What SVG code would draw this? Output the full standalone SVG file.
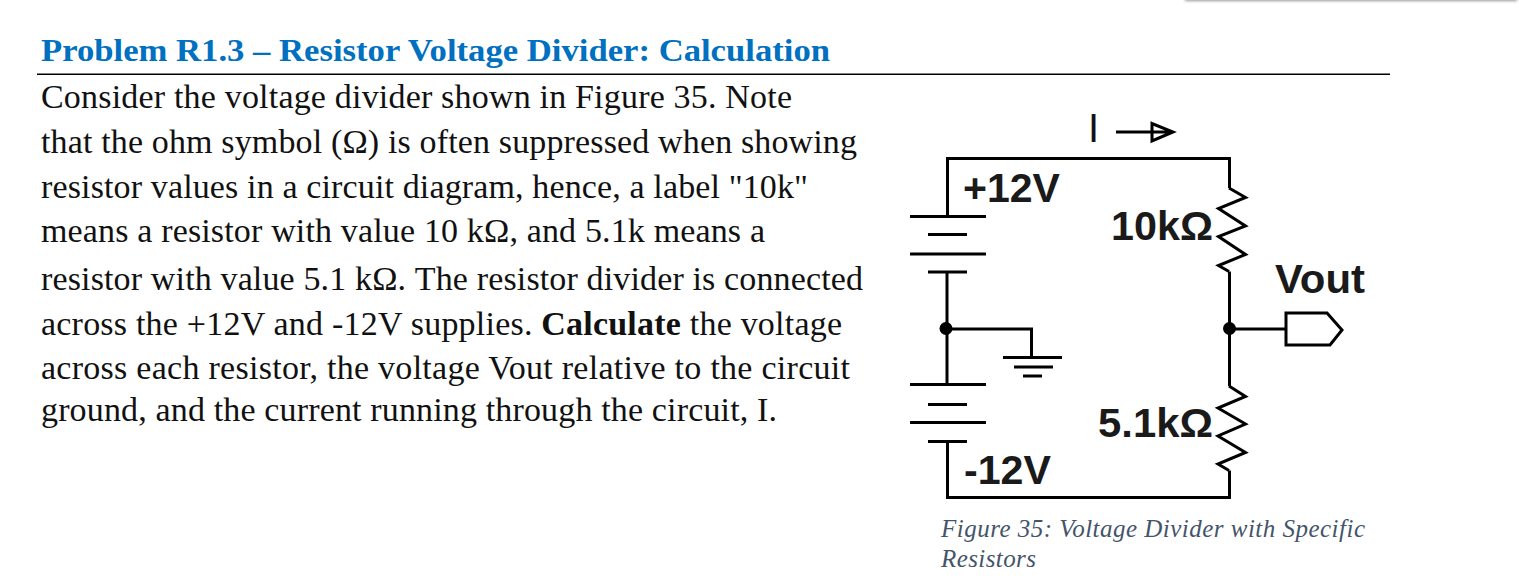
<svg xmlns="http://www.w3.org/2000/svg" width="1519" height="587" viewBox="0 0 1519 587">
<style>
.w{fill:none;stroke:#000;stroke-width:3;stroke-linejoin:miter}
.b{font-family:"Liberation Serif","Times New Roman",serif;font-size:34px;fill:#111}
.h{font-family:"Liberation Serif","Times New Roman",serif;font-size:32px;font-weight:bold;fill:#0070c0}
.c{font-family:"Liberation Serif","Times New Roman",serif;font-size:25px;font-style:italic;fill:#44546a}
.l{font-family:"Liberation Sans",Arial,sans-serif;font-size:41px;font-weight:bold;fill:#1a1a1a}
</style>
<defs><filter id="s" x="-5%" y="-300%" width="110%" height="700%"><feGaussianBlur stdDeviation="1.5"/></filter></defs>
<rect width="1519" height="587" fill="#fff"/>
<rect x="1185" y="-4" width="332" height="5" fill="#999" filter="url(#s)"/>
<g id="heading">
<text class="h" x="41" y="61" textLength="789" lengthAdjust="spacingAndGlyphs">Problem R1.3 – Resistor Voltage Divider: Calculation</text>
<rect x="37" y="73.500" width="1353" height="1.500" fill="#000"/>
</g>
<g id="body">
<text class="b" x="41" y="108" textLength="751">Consider the voltage divider shown in Figure 35. Note</text>
<text class="b" x="41" y="152.500" textLength="816">that the ohm symbol (Ω) is often suppressed when showing</text>
<text class="b" x="41" y="198" textLength="767">resistor values in a circuit diagram, hence, a label "10k"</text>
<text class="b" x="41" y="242" textLength="724">means a resistor with value 10 kΩ, and 5.1k means a</text>
<text class="b" x="41" y="290" textLength="822">resistor with value 5.1 kΩ. The resistor divider is connected</text>
<text class="b" x="41" y="335" textLength="801">across the +12V and -12V supplies. <tspan font-weight="bold">Calculate</tspan> the voltage</text>
<text class="b" x="41" y="379" textLength="809">across each resistor, the voltage Vout relative to the circuit</text>
<text class="b" x="41" y="421" textLength="736">ground, and the current running through the circuit, I.</text>
</g>
<g id="connectors">
<path class="w" d="M947.500 216.500V158.500H1229.500V188"/>
<path class="w" d="M1229.500 271.500V386"/>
<path class="w" d="M1229.500 470.500V497.500H947.500V441"/>
<path class="w" d="M947 272V384.500"/>
<path class="w" d="M947 329H1031.500V357"/>
<path class="w" d="M1229.500 329H1285"/>
</g>
<g id="battery-plus">
<path class="w" d="M910 216.500H986M928 234.500H967M910 254H986M928 272H967"/>
<text class="l" x="963" y="202" textLength="97" lengthAdjust="spacingAndGlyphs">+12V</text>
</g>
<g id="battery-minus">
<path class="w" d="M910 384.500H986M928 404.500H967M910 422.500H986M928 441.500H967"/>
<text class="l" x="964" y="484" textLength="87" lengthAdjust="spacingAndGlyphs">-12V</text>
</g>
<g id="ground">
<path class="w" d="M1003 357.500H1062M1014 367H1053M1023 376H1042"/>
</g>
<g id="r1">
<path class="w" d="M1229 188L1245.500 197.500L1218.500 208.500L1245.500 226L1218.500 236.500L1245.500 254.500L1218.500 265.500L1229 271.500"/>
<text class="l" x="1111" y="240" textLength="102" lengthAdjust="spacingAndGlyphs">10kΩ</text>
</g>
<g id="r2">
<path class="w" d="M1229 386L1245.500 396.500L1218 408L1245.500 424L1218 436L1245.500 452.500L1218 464L1229 470.500"/>
<text class="l" x="1098" y="437" textLength="115" lengthAdjust="spacingAndGlyphs">5.1kΩ</text>
</g>
<g id="junction-left"><circle cx="946" cy="328.500" r="6.500"/></g>
<g id="junction-right"><circle cx="1229.500" cy="328.500" r="6.500"/></g>
<g id="vout">
<path class="w" d="M1286 313H1327L1342 330L1330 345H1286Z"/>
<text class="l" x="1275" y="293" textLength="90" lengthAdjust="spacingAndGlyphs">Vout</text>
</g>
<g id="current">
<text x="1088" y="142" font-family="Liberation Sans,Arial,sans-serif" font-size="40" fill="#111">I</text>
<path class="w" d="M1116 132H1172M1152 123.500V141L1173 132Z"/>
</g>
<g id="caption">
<text class="c" x="941" y="537" textLength="424">Figure 35: Voltage Divider with Specific</text>
<text class="c" x="941" y="567" textLength="95">Resistors</text>
</g>
</svg>
